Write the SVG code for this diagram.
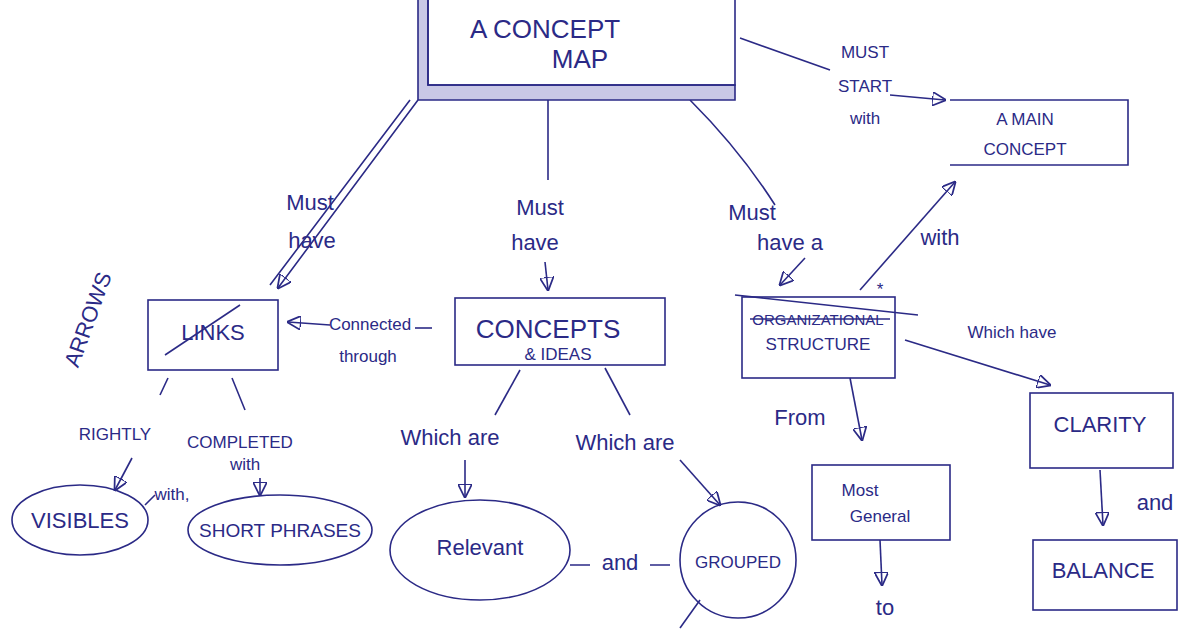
<svg xmlns="http://www.w3.org/2000/svg" width="1200" height="630" viewBox="0 0 1200 630">
<defs>
<style>
.n{fill:none;stroke:#2b2a86;stroke-width:1.6}
.t{font-family:"Liberation Sans",sans-serif;fill:#2b2a86;text-anchor:middle}
.s{font-size:17px}.m{font-size:22px}.l{font-size:26px}
</style>
<marker id="a" viewBox="0 0 12 12" refX="11" refY="6" markerWidth="14" markerHeight="14" orient="auto" markerUnits="userSpaceOnUse"><path d="M0,0L12,6L0,12Z" fill="none" stroke="#2b2a86" stroke-width="1.5"/></marker>
</defs>
<rect width="1200" height="630" fill="#fff"/>
<g id="connectors" class="n">
<path d="M740,38L830,70"/><path d="M890,95L945,100" marker-end="url(#a)"/>
<path d="M410,100L270,285M418,100L278,288" marker-end="url(#a)"/>
<path d="M548,100L548,180"/><path d="M545,262L548,290" marker-end="url(#a)"/>
<path d="M690,100Q740,150 775,205"/><path d="M805,258L780,285" marker-end="url(#a)"/>
<path d="M330,325L288,322" marker-end="url(#a)"/><path d="M415,328L432,328"/>
<path d="M860,290L955,182" marker-end="url(#a)"/>
<path d="M905,340L1050,385" marker-end="url(#a)"/>
<path d="M1100,470L1103,525" marker-end="url(#a)"/>
<path d="M850,378L862,440" marker-end="url(#a)"/>
<path d="M880,540L882,585" marker-end="url(#a)"/>
<path d="M168,378L160,395"/><path d="M232,378L245,410"/>
<path d="M132,458L115,490" marker-end="url(#a)"/><path d="M260,478L260,495" marker-end="url(#a)"/>
<path d="M145,505L155,495"/>
<path d="M520,370L495,415"/><path d="M465,460L465,497" marker-end="url(#a)"/>
<path d="M605,368L630,415"/><path d="M680,460L720,505" marker-end="url(#a)"/>
<path d="M570,565L590,565M650,565L670,565"/><path d="M700,600L680,628"/>
<path d="M735,295L918,315"/>
</g>
<g id="title"><path d="M418,-5L418,100L735,100L735,85L428,85L428,-5Z" fill="#c9c8e6" stroke="#2b2a86" stroke-width="1.6"/><rect class="n" x="428" y="-5" width="307" height="90"/><text class="t l" x="545" y="38">A CONCEPT</text><text class="t l" x="580" y="68">MAP</text></g>
<g id="mustStart"><text class="t s" x="865" y="58">MUST</text><text class="t s" x="865" y="92">START</text><text class="t s" x="865" y="124">with</text></g>
<g id="mainConcept"><path class="n" d="M950,100L1128,100L1128,165L950,165"/><text class="t s" x="1025" y="125">A MAIN</text><text class="t s" x="1025" y="155">CONCEPT</text></g>
<g id="lbl1"><text class="t m" x="310" y="210">Must</text><text class="t m" x="312" y="248">have</text></g>
<g id="lbl2"><text class="t m" x="540" y="215">Must</text><text class="t m" x="535" y="250">have</text></g>
<g id="lbl3"><text class="t m" x="752" y="220">Must</text><text class="t m" x="790" y="250">have a</text></g>
<g id="links"><rect class="n" x="148" y="300" width="130" height="70"/><text class="t m" x="213" y="340">LINKS</text><path class="n" d="M165,355L240,305"/></g>
<text class="t m" x="0" y="0" transform="translate(95,322) rotate(-70)">ARROWS</text>
<g id="lblConn"><text class="t s" x="370" y="330">Connected</text><text class="t s" x="368" y="362">through</text></g>
<g id="concepts"><rect class="n" x="455" y="298" width="210" height="67"/><text class="t l" x="548" y="338">CONCEPTS</text><text class="t s" x="558" y="360">&amp; IDEAS</text></g>
<g id="org"><rect class="n" x="742" y="297" width="153" height="81"/><text class="t" font-size="15" x="818" y="325">ORGANIZATIONAL</text><path class="n" d="M750,319L890,319"/><text class="t s" x="818" y="350">STRUCTURE</text><text class="t s" x="880" y="295">*</text></g>
<text class="t m" x="940" y="245">with</text>
<text class="t s" x="1012" y="338">Which have</text>
<g id="clarity"><rect class="n" x="1030" y="393" width="143" height="75"/><text class="t m" x="1100" y="432">CLARITY</text></g>
<text class="t m" x="1155" y="510">and</text>
<g id="balance"><rect class="n" x="1033" y="540" width="144" height="70"/><text class="t m" x="1103" y="578">BALANCE</text></g>
<text class="t m" x="800" y="425">From</text>
<g id="general"><rect class="n" x="812" y="465" width="138" height="75"/><text class="t s" x="860" y="496">Most</text><text class="t s" x="880" y="522">General</text></g>
<text class="t m" x="885" y="615">to</text>
<text class="t s" x="115" y="440">RIGHTLY</text>
<g id="visibles"><ellipse class="n" cx="80" cy="520" rx="68" ry="35"/><text class="t m" x="80" y="528">VISIBLES</text></g>
<text class="t s" x="172" y="500">with,</text>
<text class="t s" x="240" y="448">COMPLETED</text><text class="t s" x="245" y="470">with</text>
<g id="phrases"><ellipse class="n" cx="280" cy="530" rx="92" ry="35"/><text class="t" font-size="19" x="280" y="537">SHORT PHRASES</text></g>
<text class="t m" x="450" y="445">Which are</text>
<g id="relevant"><ellipse class="n" cx="480" cy="550" rx="90" ry="50"/><text class="t m" x="480" y="555">Relevant</text></g>
<text class="t m" x="620" y="570">and</text>
<text class="t m" x="625" y="450">Which are</text>
<g id="grouped"><circle class="n" cx="738" cy="560" r="58"/><text class="t s" x="738" y="568">GROUPED</text></g>
</svg>
